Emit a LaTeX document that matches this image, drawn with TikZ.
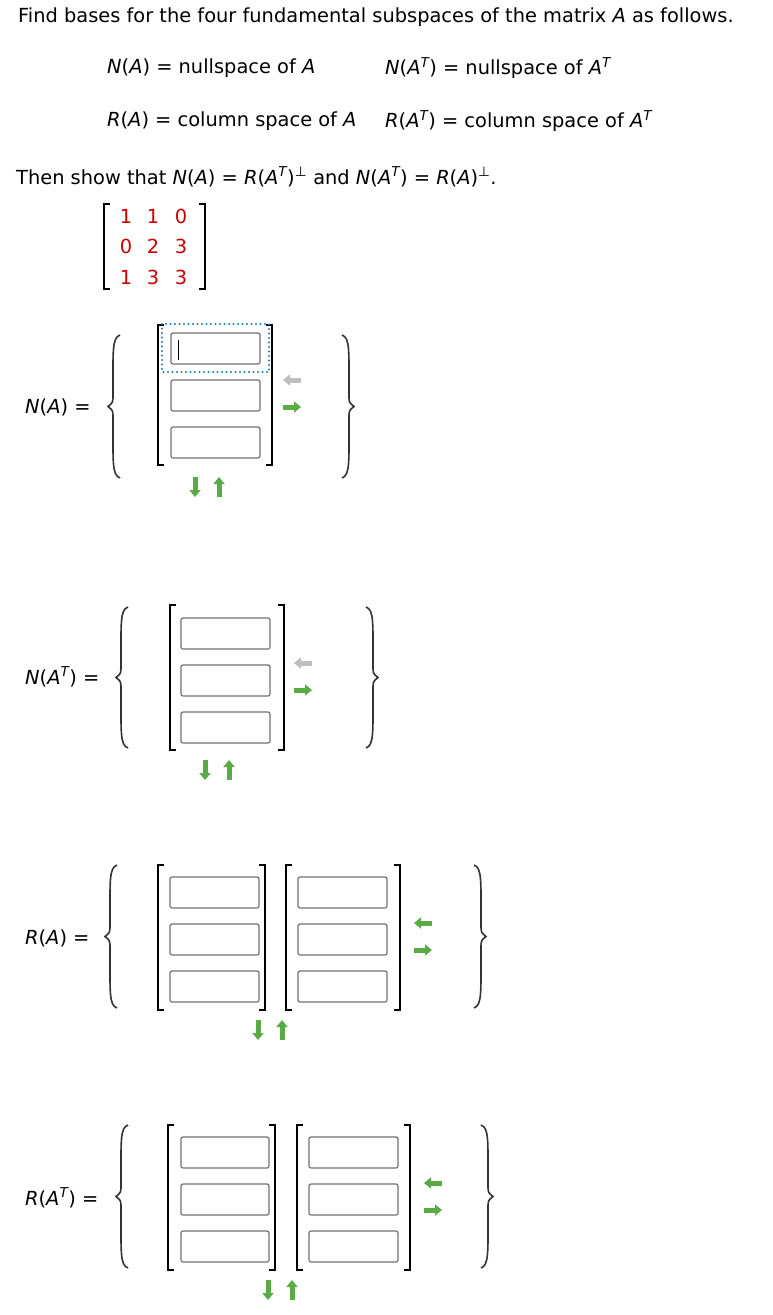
\documentclass[tikz,border=0pt]{standalone}
\usepackage{fontspec}
\setmainfont{DejaVu Sans}
\usetikzlibrary{arrows.meta}
\definecolor{red1}{RGB}{204,0,0}
\definecolor{grn}{RGB}{90,170,70}
\definecolor{gry}{RGB}{190,190,190}
\definecolor{dotblue}{RGB}{30,120,200}
\newcommand{\Tsup}{\textsuperscript{\itshape T}}
\newcommand{\lbr}[3]{\draw[line width=1.6pt,black!80] (#1+8,#2) .. controls (#1,#2+3) and (#1+1,#2+15) .. (#1+1,{(#2+#3)/2-12}) .. controls (#1+1,{(#2+#3)/2-4}) .. (#1-4,{(#2+#3)/2}) .. controls (#1+1,{(#2+#3)/2+4}) .. (#1+1,{(#2+#3)/2+12}) .. controls (#1+1,#3-15) and (#1,#3-3) .. (#1+8,#3);}
\newcommand{\rbr}[3]{\draw[line width=1.6pt,black!80] (#1-8,#2) .. controls (#1,#2+3) and (#1-1,#2+15) .. (#1-1,{(#2+#3)/2-12}) .. controls (#1-1,{(#2+#3)/2-4}) .. (#1+4,{(#2+#3)/2}) .. controls (#1-1,{(#2+#3)/2+4}) .. (#1-1,{(#2+#3)/2+12}) .. controls (#1-1,#3-15) and (#1,#3-3) .. (#1-8,#3);}
\newcommand{\brk}[4]{\draw[line width=1.6pt] (#1+6,#3) -| (#1,#4) -- (#1+6,#4); \draw[line width=1.6pt] (#2-6,#3) -| (#2,#4) -- (#2-6,#4);}
\newcommand{\ibox}[3]{\draw[black!55,line width=1.2pt,rounded corners=2pt,fill=white] (#1,#3) rectangle (#2,#3+31);}
\tikzset{arr/.style={-{Triangle[length=7pt,width=11pt]},line width=5pt}}
\newcommand{\lr}[3]{\draw[arr,#3] (#1+18,#2) -- (#1,#2); \draw[arr,grn] (#1,#2+27) -- (#1+18,#2+27);}
\newcommand{\du}[2]{\draw[arr,grn] (#1,#2-10) -- (#1,#2+10); \draw[arr,grn] (#1+24,#2+10) -- (#1+24,#2-10);}
\begin{document}
\begin{tikzpicture}[x=1pt,y=-1pt,font=\fontsize{19.4}{23}\selectfont,
  txt/.style={anchor=west,inner sep=0pt}]
\useasboundingbox[fill=white] (0,0) rectangle (772,1315);
\node[txt] (t1) at (18,17) {Find bases for the four fundamental subspaces of the matrix \textit{A} as follows.};
\node[txt] (d1) at (107,68) {\textit{N}(\textit{A}) = nullspace of \textit{A}};
\node[txt] (d2) at (385,68) {\textit{N}(\textit{A}\Tsup) = nullspace of \textit{A}\Tsup};
\node[txt] (d3) at (107,121) {\textit{R}(\textit{A}) = column space of \textit{A}};
\node[txt] (d4) at (385,121) {\textit{R}(\textit{A}\Tsup) = column space of \textit{A}\Tsup};
\node[txt] (t2) at (16,177) {Then show that \textit{N}(\textit{A}) = \textit{R}(\textit{A}\Tsup)\textsuperscript{⊥} and \textit{N}(\textit{A}\Tsup) = \textit{R}(\textit{A})\textsuperscript{⊥}.};
% matrix
\brk{104}{205}{204}{289}
\foreach \r/\a/\b/\c in {216/1/1/0,246/0/2/3,277/1/3/3}{
  \node[red1] at (126,\r) {\a}; \node[red1] at (153,\r) {\b}; \node[red1] at (181,\r) {\c};}
% block 1
\node[txt] (l1) at (25,407) {\textit{N}(\textit{A}) =};
\lbr{112}{335}{478} \rbr{350}{335}{478}
\brk{158}{272}{325}{465}
\ibox{171}{260}{333}\ibox{171}{260}{380}\ibox{171}{260}{427}
\draw[dotblue,line width=2.2pt,dash pattern=on 0pt off 4.5pt,line cap=round] (162,324) rectangle (269,372);
\draw[line width=1pt] (178,340) -- (178,360);
\lr{283}{380}{gry} \du{195}{487}
% block 2
\node[txt] (l2) at (25,677) {\textit{N}(\textit{A}\Tsup) =};
\lbr{120}{607}{748} \rbr{374}{607}{748}
\brk{170}{284}{605}{750}
\ibox{181}{270}{618}\ibox{181}{270}{665}\ibox{181}{270}{712}
\lr{294}{663}{gry} \du{205}{770}
% block 3
\node[txt] (l3) at (25,938) {\textit{R}(\textit{A}) =};
\lbr{109}{865}{1008} \rbr{482}{865}{1008}
\brk{158}{265}{865}{1010}
\brk{286}{400}{865}{1010}
\ibox{170}{259}{877}\ibox{170}{259}{924}\ibox{170}{259}{971}
\ibox{298}{387}{877}\ibox{298}{387}{924}\ibox{298}{387}{971}
\lr{414}{923}{grn} \du{258}{1030}
% block 4
\node[txt] (l4) at (25,1198) {\textit{R}(\textit{A}\Tsup) =};
\lbr{120}{1125}{1268} \rbr{489}{1125}{1268}
\brk{168}{275}{1125}{1270}
\brk{297}{410}{1125}{1270}
\ibox{181}{269}{1137}\ibox{181}{269}{1184}\ibox{181}{269}{1231}
\ibox{309}{398}{1137}\ibox{309}{398}{1184}\ibox{309}{398}{1231}
\lr{424}{1183}{grn} \du{268}{1290}
\end{tikzpicture}
\end{document}
